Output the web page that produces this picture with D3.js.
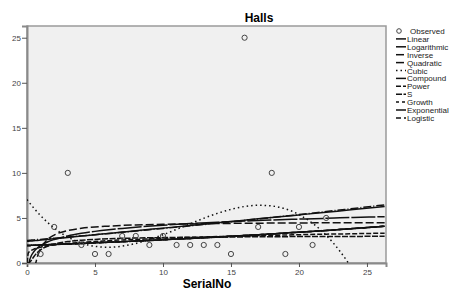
<!DOCTYPE html>
<html>
<head>
<meta charset="utf-8">
<script src="https://cdn.jsdelivr.net/npm/d3@7"></script>
<style>
  body { margin: 0; background: #fff; }
  text { font-family: Arial, "Liberation Sans", sans-serif; }
</style>
</head>
<body>
<div id="chart"></div>
<script>
// observed points
const serialNo = [1, 2, 3, 4, 5, 6, 7, 8, 9, 10, 11, 12, 13, 14, 15, 16, 17, 18, 19, 20, 21, 22];
const halls = [1, 4, 10, 2, 1, 1, 3, 3, 2, 3, 2, 2, 2, 2, 1, 25, 4, 10, 1, 4, 2, 5];

// fitted curves, read at these x positions
const xGrid = [0, 0.1, 0.2, 0.3, 0.5, 0.75, 1, 1.5, 2, 3, 4, 5, 6, 7, 8, 10, 12, 14, 16, 17, 18, 20, 22, 23, 24, 26.3];
const linearY = [2.40, 2.42, 2.43, 2.45, 2.48, 2.51, 2.55, 2.62, 2.70, 2.84, 2.99, 3.14, 3.28, 3.43, 3.58, 3.87, 4.16, 4.46, 4.75, 4.90, 5.05, 5.34, 5.63, 5.78, 5.93, 6.26];
const logY = [null, -0.33, 0.35, 0.75, 1.25, 1.65, 1.93, 2.33, 2.61, 3.01, 3.29, 3.51, 3.69, 3.84, 3.97, 4.19, 4.37, 4.52, 4.65, 4.71, 4.77, 4.87, 4.96, 5.01, 5.05, 5.14];
const inverseY = [null, null, null, -5.37, -1.39, 0.61, 1.60, 2.60, 3.10, 3.60, 3.85, 4.00, 4.09, 4.17, 4.22, 4.29, 4.34, 4.38, 4.41, 4.42, 4.43, 4.44, 4.46, 4.46, 4.47, 4.48];
const quadraticY = [2.50, 2.51, 2.53, 2.54, 2.56, 2.60, 2.62, 2.69, 2.75, 2.88, 3.01, 3.14, 3.27, 3.41, 3.55, 3.83, 4.12, 4.42, 4.73, 4.89, 5.05, 5.37, 5.71, 5.88, 6.05, 6.45];
const cubicY = [7.04, 6.84, 6.65, 6.46, 6.10, 5.67, 5.26, 4.52, 3.87, 2.88, 2.22, 1.85, 1.75, 1.87, 2.17, 3.14, 4.36, 5.51, 6.27, 6.41, 6.33, 5.37, 3.08, 1.33, -0.86, -7.9];
const compoundY = [1.94, 1.95, 1.95, 1.96, 1.97, 1.98, 2.00, 2.03, 2.06, 2.11, 2.17, 2.24, 2.30, 2.37, 2.43, 2.58, 2.73, 2.88, 3.05, 3.14, 3.23, 3.42, 3.61, 3.72, 3.82, 4.08];
const powerY = [0, 1.12, 1.28, 1.38, 1.53, 1.65, 1.75, 1.89, 2.00, 2.17, 2.29, 2.39, 2.48, 2.56, 2.62, 2.74, 2.84, 2.93, 3.00, 3.04, 3.07, 3.14, 3.20, 3.22, 3.25, 3.31];
const sY = [0, 0.00, 0.08, 0.26, 0.70, 1.14, 1.46, 1.86, 2.10, 2.38, 2.53, 2.62, 2.69, 2.74, 2.77, 2.82, 2.86, 2.88, 2.90, 2.91, 2.92, 2.93, 2.94, 2.94, 2.95, 2.96];
// growth, exponential and logistic come out the same as compound
const growthY = compoundY;
const exponentialY = compoundY;
const logisticY = compoundY;

const models = ["Linear", "Logarithmic", "Inverse", "Quadratic", "Cubic", "Compound", "Power", "S", "Growth", "Exponential", "Logistic"];
const modelValues = [linearY, logY, inverseY, quadraticY, cubicY, compoundY, powerY, sY, growthY, exponentialY, logisticY];
const modelDash = ["none", "24,2", "8,3", "8,2,1,2", "1.5,3", "none", "5,2", "6,1.5", "3,3", "none", "5,3"];

const tickVals = [0, 5, 10, 15, 20, 25];

const width = 474, height = 294;
const plot = { left: 27, right: 386, top: 26, bottom: 263 };

const svg = d3.select("#chart").append("svg")
    .attr("width", width).attr("height", height);

const x = d3.scaleLinear().domain([0, 26.4]).range([plot.left, plot.right]);
const y = d3.scaleLinear().domain([0, 26.3]).range([plot.bottom, plot.top]);

// plot background + frame
svg.append("rect")
    .attr("x", plot.left).attr("y", plot.top)
    .attr("width", plot.right - plot.left).attr("height", plot.bottom - plot.top)
    .attr("fill", "#f0f0f0")
    .attr("stroke", "#9a9a9a")
    .attr("stroke-width", 1.5);

svg.append("clipPath").attr("id", "clip")
    .append("rect")
    .attr("x", plot.left).attr("y", plot.top)
    .attr("width", plot.right - plot.left).attr("height", plot.bottom - plot.top);

// axes
const xAxis = svg.append("g")
    .attr("transform", `translate(0,${plot.bottom})`)
    .call(d3.axisBottom(x).tickValues(tickVals).tickSize(4).tickPadding(2));
const yAxis = svg.append("g")
    .attr("transform", `translate(${plot.left},0)`)
    .call(d3.axisLeft(y).tickValues(tickVals).tickSize(5).tickPadding(1));

[xAxis, yAxis].forEach(g => {
    g.select(".domain").attr("stroke", "#8a8a8a").attr("stroke-width", 2);
    g.selectAll(".tick line").attr("stroke", "#555");
    g.selectAll(".tick text").attr("fill", "#444").style("font-size", "8px");
});

// curves
const lineGen = d3.line()
    .defined(d => d[1] !== null)
    .x(d => x(d[0]))
    .y(d => y(d[1]))
    .curve(d3.curveMonotoneX);

const curvesG = svg.append("g").attr("clip-path", "url(#clip)");
curvesG.selectAll("path.fit")
    .data(models)
    .join("path")
    .attr("class", "fit")
    .attr("d", (m, i) => lineGen(xGrid.map((xv, j) => [xv, modelValues[i][j]])))
    .attr("fill", "none")
    .attr("stroke", "#111")
    .attr("stroke-width", 1.5)
    .attr("stroke-dasharray", (m, i) => modelDash[i]);

// observed points
svg.append("g").selectAll("circle")
    .data(serialNo)
    .join("circle")
    .attr("cx", d => x(d))
    .attr("cy", (d, i) => y(halls[i]))
    .attr("r", 2.6)
    .attr("fill", "none")
    .attr("stroke", "#444")
    .attr("stroke-width", 1);

// titles
svg.append("text")
    .attr("x", 259).attr("y", 22)
    .attr("text-anchor", "middle")
    .style("font-size", "12px").style("font-weight", "bold")
    .text("Halls");

svg.append("text")
    .attr("x", 207).attr("y", 288)
    .attr("text-anchor", "middle")
    .style("font-size", "12px").style("font-weight", "bold")
    .text("SerialNo");

// legend
const legendTop = 31, rowH = 7.9;
const legendG = svg.append("g");

legendG.append("circle")
    .attr("cx", 399).attr("cy", legendTop)
    .attr("r", 2.3)
    .attr("fill", "none").attr("stroke", "#444");
legendG.append("text")
    .attr("x", 410).attr("y", legendTop + 3)
    .style("font-size", "8px").attr("fill", "#222")
    .text("Observed");

const legendRow = legendG.selectAll("g.legendRow")
    .data(models)
    .join("g")
    .attr("class", "legendRow")
    .attr("transform", (d, i) => `translate(0,${legendTop + (i + 1) * rowH})`);

legendRow.append("line")
    .attr("x1", 396).attr("x2", 406)
    .attr("stroke", "#111").attr("stroke-width", 1.5)
    .attr("stroke-dasharray", (d, i) => modelDash[i]);

legendRow.append("text")
    .attr("x", 407).attr("y", 3)
    .style("font-size", "8px").attr("fill", "#222")
    .text(d => d);
</script>
</body>
</html>
